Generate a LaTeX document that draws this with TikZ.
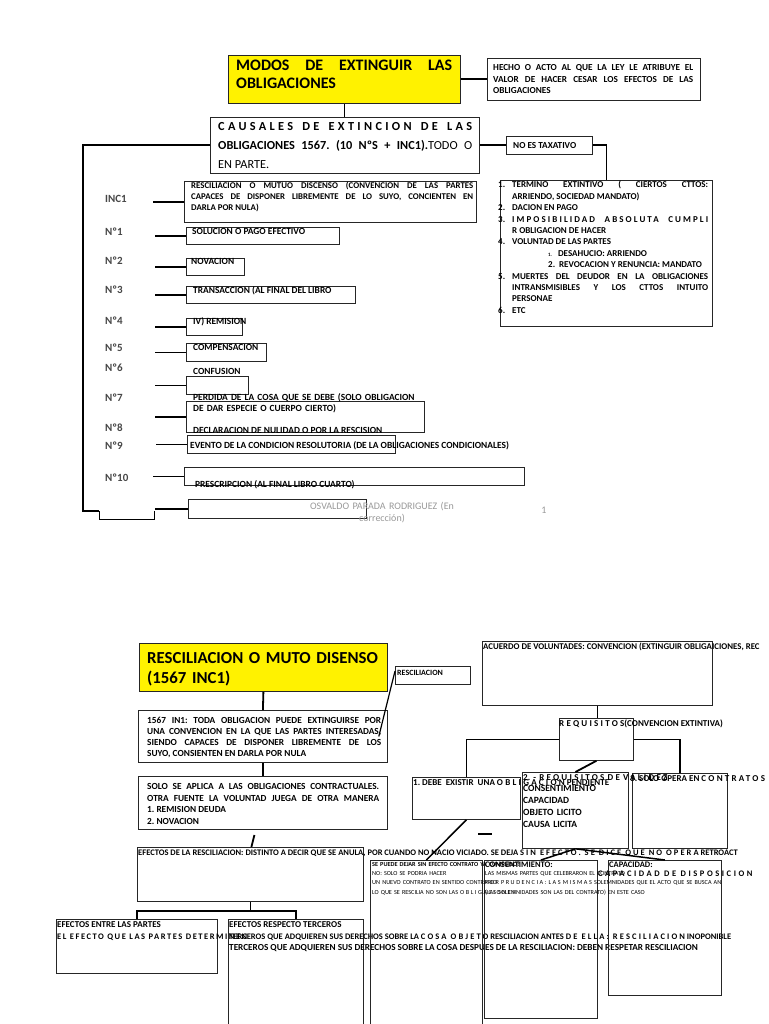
\documentclass[tikz,border=0pt]{standalone}
\usepackage{fontspec}
\setmainfont{Carlito}
\usetikzlibrary{calc}
\newcommand{\espaciado}[2][25]{{\addfontfeature{LetterSpace=#1}#2}}
\frenchspacing

\begin{document}
\begin{tikzpicture}[x=1pt, y=-1pt]

% Estilos de cajas, textos y lineas
\tikzstyle{caja} = [rectangle, draw=black!85, line width=0.8pt, anchor=north west, inner sep=0pt]
\tikzstyle{amarilla} = [caja, fill=yellow]
\tikzstyle{texto} = [anchor=base west, inner sep=0pt, font=\bfseries\fontsize{9.4}{11.4}\selectfont]
\tikzstyle{parrafo} = [texto, align=justify]
\tikzstyle{chico} = [texto, text width=300pt, align=left, font=\fontsize{6.2}{9.4}\selectfont]
\tikzstyle{numero} = [texto, text=black!72, font=\bfseries\fontsize{11}{13}\selectfont]
\tikzstyle{pie} = [anchor=base, inner sep=0pt, text=black!40, font=\fontsize{10}{12}\selectfont]
\tikzstyle{linea} = [line width=1.8pt]

\path [use as bounding box, fill=white] (0,0) rectangle (768,1024);

% Titulo y definicion
\node (modos) [amarilla, minimum width=232pt, minimum height=48pt] at (228,55) {};
\node (tmodos) [parrafo, text width=216pt, font=\bfseries\fontsize{16}{18}\selectfont] at (236,71) {MODOS DE EXTINGUIR LAS\linebreak OBLIGACIONES};
\node (hecho) [caja, minimum width=213pt, minimum height=42pt] at (487,58) {};
\node (thecho) [parrafo, text width=200pt, font=\bfseries\fontsize{9.2}{11.3}\selectfont] at (493,71) {HECHO O ACTO AL QUE LA LEY LE ATRIBUYE EL\linebreak VALOR DE HACER CESAR LOS EFECTOS DE LAS\linebreak OBLIGACIONES};
\draw [linea] (modos.east) -- (hecho.west);

% Causales
\node (causales) [caja, minimum width=269pt, minimum height=56pt] at (210,117) {};
\node (tcausales) [parrafo, text width=254pt, font=\bfseries\fontsize{12.3}{19}\selectfont] at (218,131) {\espaciado[27]{CAUSALES DE EXTINCION DE LAS}\linebreak OBLIGACIONES 1567. (10 NºS + INC1).{\mdseries TODO O}\linebreak {\mdseries EN PARTE.}};
\draw [linea] (modos.south) -- (modos.south |- causales.north);

\node (taxativo) [caja, minimum width=86pt, minimum height=18pt] at (506,136) {};
\node (ttaxativo) [texto, font=\bfseries\fontsize{9.2}{10}\selectfont] at (513,149) {NO ES TAXATIVO};
\draw [linea] (causales.east) -- (taxativo.west);

\node (lista) [caja, minimum width=212pt, minimum height=146pt] at (500,180) {};
\node (tlista) [parrafo, text width=210pt, font=\bfseries\fontsize{9}{11.4}\selectfont] at (498,188) {\makebox[14pt][l]{1.}TERMINO EXTINTIVO ( CIERTOS CTTOS:\linebreak
\hspace*{14pt}ARRIENDO, SOCIEDAD MANDATO)\\
\makebox[14pt][l]{2.}DACION EN PAGO\\
\makebox[14pt][l]{3.}\espaciado[23]{IMPOSIBILIDAD ABSOLUTA CUMPLI}\linebreak
\hspace*{14pt}R OBLIGACION DE HACER\\
\makebox[14pt][l]{4.}VOLUNTAD DE LAS PARTES\\
\hspace*{50pt}{\fontsize{5}{6}\selectfont 1.}\hspace{6pt}DESAHUCIO: ARRIENDO\\
\hspace*{50pt}2.\hspace{4pt}REVOCACION Y RENUNCIA: MANDATO\\
\makebox[14pt][l]{5.}MUERTES DEL DEUDOR EN LA OBLIGACIONES\linebreak
\hspace*{14pt}INTRANSMISIBLES Y LOS CTTOS INTUITO\linebreak
\hspace*{14pt}PERSONAE\\
\makebox[14pt][l]{6.}ETC};
\draw [linea] (taxativo.east) -| (lista.north);

% Numerales del 1567
\node (linc1) [numero] at (105,202.5) {INC1};
\node (lnro1) [numero] at (105,235.5) {Nº1};
\node (lnro2) [numero] at (105,264.5) {Nº2};
\node (lnro3) [numero] at (105,293.5) {Nº3};
\node (lnro4) [numero] at (105,324.5) {Nº4};
\node (lnro5) [numero] at (105,351) {Nº5};
\node (lnro6) [numero] at (105,371) {Nº6};
\node (lnro7) [numero] at (105,401) {Nº7};
\node (lnro8) [numero] at (105,431) {Nº8};
\node (lnro9) [numero] at (105,449) {Nº9};
\node (lnro10) [numero] at (105,481) {Nº10};

\node (inc1) [caja, minimum width=292pt, minimum height=41pt] at (184,181) {};
\node (tinc1) [parrafo, text width=282pt, font=\bfseries\fontsize{8.8}{11}\selectfont] at (191,189) {RESCILIACION O MUTUO DISCENSO (CONVENCION DE LAS PARTES\linebreak CAPACES DE DISPONER LIBREMENTE DE LO SUYO, CONCIENTEN EN\linebreak DARLA POR NULA)};
\node (nro1) [caja, minimum width=153pt, minimum height=17pt] at (186,227) {};
\node (tnro1) [texto] at (192,234) {SOLUCION O PAGO EFECTIVO};
\node (nro2) [caja, minimum width=58pt, minimum height=17pt] at (186,258) {};
\node (tnro2) [texto] at (191,264) {NOVACION};
\node (nro3) [caja, minimum width=169pt, minimum height=17pt] at (186,286) {};
\node (tnro3) [texto] at (193,293) {TRANSACCION (AL FINAL DEL LIBRO};
\node (nro4) [caja, minimum width=56pt, minimum height=17pt] at (186,318) {};
\node (tnro4) [texto] at (193,324) {IV) REMISION};
\node (nro5) [caja, minimum width=80pt, minimum height=18pt] at (186,343) {};
\node (tnro5) [texto] at (193,350) {COMPENSACION};
\node (nro6) [caja, minimum width=62pt, minimum height=18pt] at (186,376) {};
\node (tnro6) [texto] at (193,374) {CONFUSION};
\node (nro7) [caja, minimum width=238pt, minimum height=31pt] at (186,401) {};
\node (tnro7) [texto, text width=300pt, align=left] at (193,400) {PERDIDA DE LA COSA QUE SE DEBE (SOLO OBLIGACION\\DE DAR ESPECIE O CUERPO CIERTO)};
\node (tnro8) [texto] at (193,433.5) {DECLARACION DE NULIDAD O POR LA RESCISION};
\node (nro9) [caja, minimum width=208pt, minimum height=18pt] at (187,435) {};
\node (tnro9) [texto] at (190,448) {EVENTO DE LA CONDICION RESOLUTORIA (DE LA OBLIGACIONES CONDICIONALES)};
\node (nro10) [caja, minimum width=340pt, minimum height=18pt] at (184,467) {};
\node (tnro10) [texto] at (195,487) {PRESCRIPCION (AL FINAL LIBRO CUARTO)};
\node (nro11) [caja, minimum width=178pt, minimum height=19pt] at (188,499) {};

\draw [linea] (inc1.west) -- +(-31,0);
\draw [linea] (nro1.west) -- +(-31,0);
\draw [linea] (nro2.west) -- +(-31,0);
\draw [linea] (nro3.west) -- +(-31,0);
\draw [linea] (nro4.west) -- +(-31,0);
\draw [linea] (nro5.west) -- +(-31,0);
\draw [linea] (nro6.west) -- +(-31,0);
\draw [linea] (nro7.west) -- +(-31,0);
\draw [linea] (nro9.west) -- +(-31,0);
\draw [linea] (nro10.west) -- +(-31,0);
\draw [linea] (nro11.west) -- +(-33,0);

% Llave izquierda
\coordinate (codo) at (83,511);
\coordinate (llave) at (99,511);
\draw [linea] (causales.west) -| (codo) -- (llave);
\draw [line width=1pt] (llave) |- (154,519) -- (154,511);

% Pie de pagina
\node (pie) [pie, text width=200pt, align=center] at (382,509.5) {OSVALDO PARADA RODRIGUEZ (En\\corrección)};
\node (pagina) [pie] at (544,513) {1};

% Resciliacion
\node (rescil) [amarilla, minimum width=248pt, minimum height=48pt] at (139,643) {};
\node (trescil) [texto, text width=240pt, align=left, font=\bfseries\fontsize{16.8}{20}\selectfont] at (147,663) {RESCILIACION O MUTO DISENSO\\(1567 INC1)};
\node (in1) [caja, minimum width=249pt, minimum height=52pt] at (138,710) {};
\node (tin1) [parrafo, text width=234pt, font=\bfseries\fontsize{9.3}{11.1}\selectfont] at (147,723.5) {1567 IN1: TODA OBLIGACION PUEDE EXTINGUIRSE POR\linebreak UNA CONVENCION EN LA QUE LAS PARTES INTERESADAS,\linebreak SIENDO CAPACES DE DISPONER LIBREMENTE DE LOS\linebreak SUYO, CONSIENTEN EN DARLA POR NULA};
\node (solo) [caja, minimum width=249pt, minimum height=53pt] at (138,776) {};
\node (tsolo) [parrafo, text width=232pt, font=\bfseries\fontsize{9.3}{11.6}\selectfont] at (147,789.5) {SOLO SE APLICA A LAS OBLIGACIONES CONTRACTUALES.\linebreak OTRA FUENTE LA VOLUNTAD JUEGA DE OTRA MANERA\linebreak 1. REMISION DEUDA\\2. NOVACION};
\draw [linea] (rescil.south) -- (in1.north);
\draw [linea] (in1.south) -- (solo.north);

\node (resc) [caja, minimum width=75pt, minimum height=18pt] at (395,666) {};
\node (tresc) [texto, font=\bfseries\fontsize{8}{9}\selectfont] at (397,675.5) {RESCILIACION};
\draw [linea, line width=1.2pt] ([yshift=-5pt]resc.north west) -- ([xshift=-9pt]in1.east);

% Convencion y requisitos
\node (acuerdo) [caja, minimum width=230pt, minimum height=64pt] at (482,641) {};
\node (tacuerdo) [texto, font=\bfseries\fontsize{8.8}{10}\selectfont] at (483,649.5) {ACUERDO DE VOLUNTADES: CONVENCION (EXTINGUIR OBLIGAICIONES, REC};
\node (requisitos) [caja, minimum width=74pt, minimum height=42pt] at (559,718) {};
\node (trequisitos) [texto, font=\bfseries\fontsize{9}{10}\selectfont] at (559,726) {\espaciado{REQUISITOS}(CONVENCION EXTINTIVA)};
\draw [linea] (acuerdo.south) -- (acuerdo.south |- requisitos.north);

\node (debe) [caja, minimum width=108pt, minimum height=42pt] at (412,777) {};
\node (validez) [caja, minimum width=106pt, minimum height=76pt] at (522,772) {};
\node (contratos) [caja, minimum width=95pt, minimum height=75pt] at (632,773) {};
\node (tdebe) [texto, font=\bfseries\fontsize{9}{10}\selectfont] at (413,785) {1. DEBE\ \ EXISTIR\ \ UNA \espaciado{OBLIGACION} PENDIENTE};
\node (tvalidez) [texto, text width=104pt, align=left, font=\bfseries\fontsize{9.5}{11.8}\selectfont] at (523,780) {\rlap{\fontsize{9}{10}\selectfont 2. - \espaciado{REQUISITOS DE VALIDEZ}}\\CONSENTIMIENTO\\CAPACIDAD\\OBJETO LICITO\\CAUSA LICITA};
\node (tcontratos) [texto, font=\bfseries\fontsize{9}{10}\selectfont] at (630,781) {3. SOLO OPERA EN \espaciado{CONTRATOS}};
\draw [linea] (requisitos.west) -| (debe.north);
\draw [linea] (requisitos.east) -| (contratos.north);
\draw [linea] (requisitos.south) -- (validez.north);
\draw [linea] (478,834) -- (492,834);

% Efectos
\node (efectos) [caja, minimum width=226pt, minimum height=54pt] at (137,847) {};
\node (tefectos) [texto, font=\bfseries\fontsize{8.5}{10}\selectfont] at (138,855) {EFECTOS DE LA RESCILIACION: DISTINTO A DECIR QUE SE ANULA, POR CUANDO NO NACIO VICIADO. SE DEJA \espaciado[24]{SIN EFECTO. SE DICE QUE NO OPERA} RETROACT};
\draw [linea] ($(efectos.north)+(4,-12)$) -- ([xshift=1pt]efectos.north);

\node (partes) [caja, minimum width=161pt, minimum height=54pt] at (56,919) {};
\node (terceros) [caja, minimum width=135pt, minimum height=115pt] at (228,919) {};
\coordinate (rama) at ($(efectos.south)+(0,9)$);
\draw [linea] (efectos.south) -- (rama);
\draw [linea] (rama) -| (partes.north);
\draw [linea] (rama) -| (terceros.north);
\node (tpartes) [texto, font=\bfseries\fontsize{9}{10}\selectfont] at (57,927.5) {EFECTOS ENTRE LAS PARTES};
\node (tpartes2) [texto, font=\bfseries\fontsize{8.5}{10}\selectfont] at (57,939) {\espaciado[18]{EL EFECTO QUE LAS PARTES DETERMINEN}};
\node (tterceros) [texto, font=\bfseries\fontsize{9}{10}\selectfont] at (229,927.5) {EFECTOS RESPECTO TERCEROS};
\node (tterceros2) [texto, font=\bfseries\fontsize{8.5}{10}\selectfont] at (229,939) {TERCEROS QUE ADQUIEREN SUS DERECHOS SOBRE LA \espaciado{COSA OBJETO} RESCILIACION ANTES \espaciado{DE ELLA: RESCILIACION} INOPONIBLE};
\node (tterceros3) [texto, font=\bfseries\fontsize{9.2}{10}\selectfont] at (229,950) {TERCEROS QUE ADQUIEREN SUS DERECHOS SOBRE LA COSA DESPUES DE LA RESCILIACION: DEBEN RESPETAR RESCILIACION};

% Contrato ya cumplido, consentimiento y capacidad
\node (sepuede) [caja, minimum width=112pt, minimum height=175pt] at (370,860) {};
\node (consent) [caja, minimum width=113pt, minimum height=158pt] at (484,860) {};
\node (capac) [caja, minimum width=113pt, minimum height=135pt] at (608,860) {};
\draw [linea, line width=1.5pt] (debe.south) -- (sepuede.north);
\draw [linea, line width=1.5pt] (validez.south) -- (consent.north);
\draw [linea, line width=1.5pt] (validez.south) -- (capac.north);
\node (tsepuede) [chico] at (372,866) {{\bfseries SE PUEDE DEJAR SIN EFECTO CONTRATO YA CUMPLIDO?}\\NO: SOLO SE PODRIA HACER\\UN NUEVO CONTRATO EN SENTIDO CONTRARIO\\LO QUE SE RESCILIA NO SON LAS \espaciado{OBLIGACIONES}};
\node (tconsent) [texto, font=\bfseries\fontsize{8.5}{10}\selectfont] at (485,867) {CONSENTIMIENTO:};
\node (tconsent2) [chico] at (485,875.4) {LAS MISMAS PARTES QUE CELEBRARON EL CONTRATO\\\espaciado{POR PRUDENCIA: LAS MISMAS} SOLEMNIDADES QUE EL ACTO QUE SE BUSCA AN\\(LAS SOLEMNIDADES SON LAS DEL CONTRATO) EN ESTE CASO};
\node (tcapac) [texto, font=\bfseries\fontsize{8.5}{10}\selectfont] at (609,867) {CAPACIDAD:};
\node (tcapac2) [texto, font=\bfseries\fontsize{8.5}{9}\selectfont] at (598,876) {\espaciado[30]{CAPACIDAD DE DISPOSICION}};

\end{tikzpicture}
\end{document}
